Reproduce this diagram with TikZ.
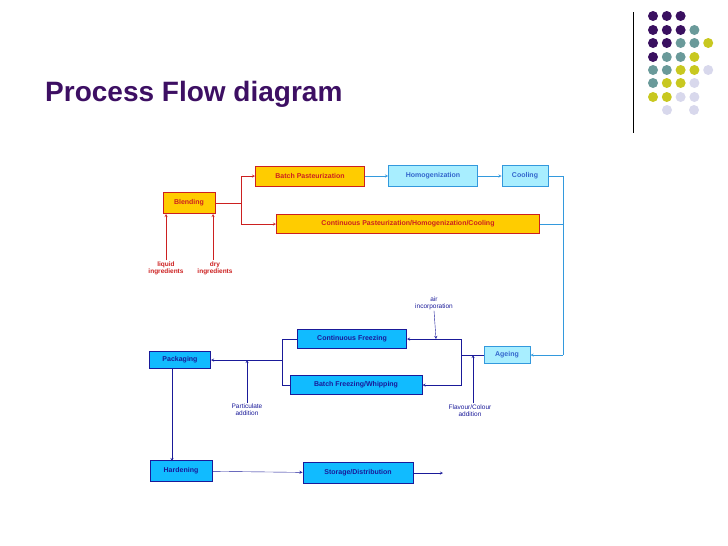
\documentclass[tikz,border=0pt]{standalone}
\usepackage{fontspec}
\setmainfont{Liberation Sans}
\usetikzlibrary{arrows}
\definecolor{titlepurple}{HTML}{3D0F63}
\definecolor{P}{HTML}{3A1060}
\definecolor{T}{HTML}{6A9A9A}
\definecolor{Y}{HTML}{C8C820}
\definecolor{L}{HTML}{D8D8EC}
\definecolor{redline}{HTML}{CC2020}
\definecolor{orangefill}{HTML}{FFCC00}
\definecolor{cyanfill}{HTML}{A8EEFF}
\definecolor{cyanline}{HTML}{3399DD}
\definecolor{cyantext}{HTML}{3366CC}
\definecolor{bluefill}{HTML}{11BBFF}
\definecolor{navy}{HTML}{1A1A99}

\tikzstyle{textonly}=[align=center, font=\fontsize{7}{8}\selectfont\bfseries, inner sep=1pt]
\tikzstyle{hotbox}=[textonly, rectangle, draw=redline, fill=orangefill, text=redline, line width=1pt]
\tikzstyle{coolbox}=[textonly, rectangle, draw=cyanline, fill=cyanfill, text=cyantext, line width=1pt]
\tikzstyle{icebox}=[textonly, rectangle, draw=navy, fill=bluefill, text=navy, line width=1pt]
\tikzstyle{redlabel}=[textonly, text=redline, font=\fontsize{6.5}{7}\selectfont\bfseries]
\tikzstyle{bluelabel}=[align=center, text=navy, font=\fontsize{6.5}{7}\selectfont, inner sep=1pt]

\begin{document}
\begin{tikzpicture}[x=1pt, y=-1pt, >=stealth]
  \useasboundingbox (0,0) rectangle (728,546);

  % Title and decoration
  \node (title) [anchor=base west, text=titlepurple, font=\fontsize{28}{30}\selectfont\bfseries, inner sep=0] at (45,101) {Process Flow diagram};
  \draw [line width=1pt] (633,12) -- (633,133);
  \foreach \row/\cols in {16/{P,P,P}, 30/{P,P,P,T}, 43/{P,P,T,T,Y}, 57/{P,T,T,Y}, 70/{T,T,Y,Y,L}, 83/{T,Y,Y,L}, 97/{Y,Y,L,L}}
    \foreach \c [count=\i] in \cols
      \fill [\c] ({653+13.8*(\i-1)},\row) circle (5);
  \fill [L] (667,110) circle (5);
  \fill [L] (694,110) circle (5);

  % Nodes
  \node (blend) [hotbox, minimum width=52, minimum height=21] at (189,203) {Blending};
  \node (batchpast) [hotbox, minimum width=109, minimum height=20] at (310,176) {Batch Pasteurization};
  \node (homog) [coolbox, minimum width=89, minimum height=21] at (433,176) {Homogenization};
  \node (cool) [coolbox, minimum width=46, minimum height=21] at (525,176) {Cooling};
  \node (contpast) [hotbox, minimum width=263, minimum height=19] at (408,224) {Continuous Pasteurization/Homogenization/Cooling};
  \node (liquid) [redlabel] at (166,268) {liquid\\ingredients};
  \node (dry) [redlabel] at (215,268) {dry\\ingredients};
  \node (ageing) [coolbox, minimum width=46, minimum height=17] at (507,355) {Ageing};
  \node (contfreeze) [icebox, minimum width=109, minimum height=19] at (352,339) {Continuous Freezing};
  \node (batchfreeze) [icebox, minimum width=132, minimum height=19] at (356,385) {Batch Freezing/Whipping};
  \node (air) [bluelabel] at (434,303) {air\\incorporation};
  \node (flavour) [bluelabel] at (470,411) {Flavour/Colour\\addition};
  \node (partic) [bluelabel] at (247,410) {Particulate\\addition};
  \node (pack) [icebox, minimum width=61, minimum height=17] at (180,360) {Packaging};
  \node (harden) [icebox, minimum width=62, minimum height=21] at (181,471) {Hardening};
  \node (store) [icebox, minimum width=110, minimum height=21] at (358,473) {Storage/Distribution};
  \coordinate (out) at (443,473);

  % Arrows
  \draw [->, redline] (blend.east) -- (241,203) |- (batchpast.west);
  \draw [->, redline] (241,203) |- (contpast.west);
  \draw [->, redline] (liquid.north) -- (liquid.north |- blend.south);
  \draw [->, redline] (213,260) -- (213,214);
  \draw [->, cyanline] (batchpast) -- (homog);
  \draw [->, cyanline] (homog) -- (cool);
  \draw [cyanline] (cool.east) -- (563,176) -- (563,355);
  \draw [cyanline] (contpast.east) -- (563,224);
  \draw [->, cyanline] (563,355) -- (ageing.east);
  \draw [navy] (ageing.west) -- (461,355);
  \draw [->, navy] (461,355) |- (contfreeze.east);
  \draw [->, navy] (461,355) |- (batchfreeze.east);
  \draw [->, navy] (air.south) -- (436,339);
  \draw [->, navy] (473,403) -- (473,355);
  \draw [navy] (contfreeze.west) -- (282,339) -- (282,385) -- (batchfreeze.west);
  \draw [->, navy] (282,360) -- (pack.east);
  \draw [->, navy] (partic.north) -- (247,360);
  \draw [->, navy] (172,369) -- (172,461);
  \draw [->, navy] (harden) -- (store);
  \draw [->, navy] (store) -- (out);
\end{tikzpicture}
\end{document}
